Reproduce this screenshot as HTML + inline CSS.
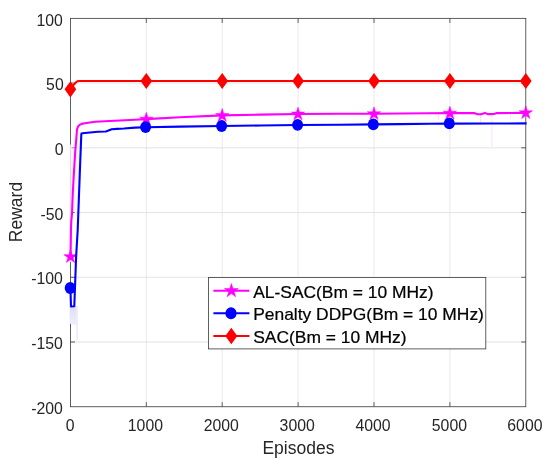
<!DOCTYPE html>
<html lang="en"><head><meta charset="utf-8"><title>Reward vs Episodes</title>
<style>
html,body{margin:0;padding:0;background:#ffffff;}
body{width:550px;height:463px;overflow:hidden;font-family:"Liberation Sans",sans-serif;}
svg{display:block;}
</style></head><body>
<svg width="550" height="463" viewBox="0 0 550 463" role="img" aria-label="Reward versus Episodes" font-family="'Liberation Sans', sans-serif">
<rect x="0" y="0" width="550" height="463" fill="#ffffff"/>
<path d="M146.30 18.35V406.75M222.20 18.35V406.75M298.10 18.35V406.75M374.00 18.35V406.75M449.90 18.35V406.75" stroke="#e9e9e9" stroke-width="1" fill="none"/>
<path d="M70.40 342.02H525.80M70.40 277.28H525.80M70.40 212.55H525.80M70.40 147.82H525.80M70.40 83.08H525.80" stroke="#e3e3e3" stroke-width="1" fill="none"/>
<rect x="70.40" y="18.35" width="455.40" height="388.40" fill="none" stroke="#383838" stroke-width="0.8"/>
<path d="M146.30 406.75v-4.6M146.30 18.35v4.6M222.20 406.75v-4.6M222.20 18.35v4.6M298.10 406.75v-4.6M298.10 18.35v4.6M374.00 406.75v-4.6M374.00 18.35v4.6M449.90 406.75v-4.6M449.90 18.35v4.6M70.40 342.02h4.6M525.80 342.02h-4.6M70.40 277.28h4.6M525.80 277.28h-4.6M70.40 212.55h4.6M525.80 212.55h-4.6M70.40 147.82h4.6M525.80 147.82h-4.6M70.40 83.08h4.6M525.80 83.08h-4.6" stroke="#383838" stroke-width="0.8" fill="none"/>
<g id="bands">
<defs><linearGradient id="bg" x1="0" y1="0" x2="0" y2="1"><stop offset="0" stop-color="#dcdcf9"/><stop offset="1" stop-color="#efeffd"/></linearGradient></defs>
<path d="M69.6 306 L76.4 306 L76.2 325.5 L69.6 323.5 Z" fill="url(#bg)"/>
<path d="M76 306 L77.7 306 L77.9 340 L76.4 340 Z" fill="#e9e9fc"/>
<path d="M69.3 144.6 L72.3 144.6 L72.3 200 L72.0 225 L71.8 262 L69.3 262 Z" fill="#fff0ff" opacity="0.84"/>
<path d="M72.3 144.6 L76.2 144.6 L74.6 160 L73.4 180 L72.6 200 L72.3 200 Z" fill="#fff0ff" opacity="0.35"/>
<path d="M76 132 L80.6 132 L79.4 160 L78.2 190 L77.2 215 L74 215 L75 180 Z" fill="#f4f0ff" opacity="0.5"/>
<path d="M438.6 113V120.5M480.5 113V125M491.9 113V148M510.5 113V119" stroke="#ffdcff" stroke-width="0.9" fill="none"/>
</g>
<polyline points="70.5,257.0 70.8,240.0 71.0,228.0 71.3,221.0 72.0,214.0 72.7,195.0 73.4,182.0 74.2,168.0 75.2,152.0 76.2,140.0 76.8,132.0 77.0,129.5 77.7,127.2 79.2,125.2 81.6,123.9 85.0,123.2 90.0,122.5 95.0,121.8 100.0,121.5 115.0,120.7 135.0,119.8 146.3,119.1 180.0,117.2 222.2,115.4 260.0,114.6 298.1,114.0 340.0,113.8 374.0,113.7 400.0,113.5 430.0,113.2 449.9,113.1 474.0,113.0 477.7,114.3 481.0,114.3 485.0,112.9 487.7,114.1 494.0,114.0 497.0,113.1 510.0,113.0 525.8,112.9" fill="none" stroke="#ff00ff" stroke-width="2.1" stroke-linejoin="round"/>
<polygon points="70.50,249.80 72.07,254.64 77.16,254.64 73.04,257.63 74.61,262.46 70.50,259.47 66.39,262.46 67.96,257.63 63.84,254.64 68.93,254.64" fill="#ff00ff" stroke="#ff00ff" stroke-width="0.5" stroke-linejoin="miter"/>
<polygon points="146.30,112.30 147.87,117.14 152.96,117.14 148.84,120.13 150.41,124.96 146.30,121.97 142.19,124.96 143.76,120.13 139.64,117.14 144.73,117.14" fill="#ff00ff" stroke="#ff00ff" stroke-width="0.5" stroke-linejoin="miter"/>
<polygon points="222.20,108.60 223.77,113.44 228.86,113.44 224.74,116.43 226.31,121.26 222.20,118.27 218.09,121.26 219.66,116.43 215.54,113.44 220.63,113.44" fill="#ff00ff" stroke="#ff00ff" stroke-width="0.5" stroke-linejoin="miter"/>
<polygon points="298.00,107.20 299.57,112.04 304.66,112.04 300.54,115.03 302.11,119.86 298.00,116.87 293.89,119.86 295.46,115.03 291.34,112.04 296.43,112.04" fill="#ff00ff" stroke="#ff00ff" stroke-width="0.5" stroke-linejoin="miter"/>
<polygon points="374.00,106.90 375.57,111.74 380.66,111.74 376.54,114.73 378.11,119.56 374.00,116.57 369.89,119.56 371.46,114.73 367.34,111.74 372.43,111.74" fill="#ff00ff" stroke="#ff00ff" stroke-width="0.5" stroke-linejoin="miter"/>
<polygon points="449.90,106.30 451.47,111.14 456.56,111.14 452.44,114.13 454.01,118.96 449.90,115.97 445.79,118.96 447.36,114.13 443.24,111.14 448.33,111.14" fill="#ff00ff" stroke="#ff00ff" stroke-width="0.5" stroke-linejoin="miter"/>
<polygon points="525.80,105.90 527.37,110.74 532.46,110.74 528.34,113.73 529.91,118.56 525.80,115.57 521.69,118.56 523.26,113.73 519.14,110.74 524.23,110.74" fill="#ff00ff" stroke="#ff00ff" stroke-width="0.5" stroke-linejoin="miter"/>
<polyline points="70.4,288.0 71.0,306.5 74.3,306.3 76.1,257.0 77.7,230.0 79.0,195.0 80.1,165.0 81.3,134.6 81.5,133.5 82.5,133.2 90.0,132.5 98.0,131.8 105.9,131.5 111.7,129.3 117.0,128.9 124.0,128.5 135.0,127.6 146.0,127.3 180.0,126.6 222.2,126.0 260.0,125.5 298.1,125.0 340.0,124.7 374.0,124.4 400.0,124.1 430.0,123.8 449.9,123.6 490.0,123.5 526.6,123.4" fill="none" stroke="#0000ff" stroke-width="2.1" stroke-linejoin="round"/>
<ellipse cx="70.20" cy="288.00" rx="5.50" ry="5.90" fill="#0000ff"/>
<ellipse cx="145.60" cy="127.10" rx="5.50" ry="5.90" fill="#0000ff"/>
<ellipse cx="221.60" cy="126.00" rx="5.50" ry="5.90" fill="#0000ff"/>
<ellipse cx="297.60" cy="124.80" rx="5.50" ry="5.90" fill="#0000ff"/>
<ellipse cx="373.30" cy="124.40" rx="5.50" ry="5.90" fill="#0000ff"/>
<ellipse cx="449.30" cy="123.40" rx="5.50" ry="5.90" fill="#0000ff"/>
<polyline points="70.4,89.3 73.0,85.6 76.0,82.3 77.6,81.2 79.0,81.0 525.8,81.0" fill="none" stroke="#ff0000" stroke-width="2.1" stroke-linejoin="round"/>
<polygon points="70.40,81.20 76.25,89.30 70.40,97.40 64.55,89.30" fill="#ff0000"/>
<polygon points="146.30,72.90 152.15,81.00 146.30,89.10 140.45,81.00" fill="#ff0000"/>
<polygon points="222.20,72.90 228.05,81.00 222.20,89.10 216.35,81.00" fill="#ff0000"/>
<polygon points="298.10,72.90 303.95,81.00 298.10,89.10 292.25,81.00" fill="#ff0000"/>
<polygon points="374.00,72.90 379.85,81.00 374.00,89.10 368.15,81.00" fill="#ff0000"/>
<polygon points="449.90,72.90 455.75,81.00 449.90,89.10 444.05,81.00" fill="#ff0000"/>
<polygon points="525.80,72.90 531.65,81.00 525.80,89.10 519.95,81.00" fill="#ff0000"/>
<text x="70.10" y="431.2" font-size="15.8" fill="#262626" text-anchor="middle">0</text>
<text x="145.40" y="431.2" font-size="15.8" fill="#262626" text-anchor="middle">1000</text>
<text x="221.30" y="431.2" font-size="15.8" fill="#262626" text-anchor="middle">2000</text>
<text x="297.20" y="431.2" font-size="15.8" fill="#262626" text-anchor="middle">3000</text>
<text x="373.10" y="431.2" font-size="15.8" fill="#262626" text-anchor="middle">4000</text>
<text x="449.40" y="431.2" font-size="15.8" fill="#262626" text-anchor="middle">5000</text>
<text x="524.90" y="431.2" font-size="15.8" fill="#262626" text-anchor="middle">6000</text>
<text x="62.90" y="413.90" font-size="15.8" fill="#262626" text-anchor="end">-200</text>
<text x="62.80" y="349.17" font-size="15.8" fill="#262626" text-anchor="end">-150</text>
<text x="62.80" y="284.43" font-size="15.8" fill="#262626" text-anchor="end">-100</text>
<text x="63.30" y="219.70" font-size="15.8" fill="#262626" text-anchor="end">-50</text>
<text x="63.50" y="154.97" font-size="15.8" fill="#262626" text-anchor="end">0</text>
<text x="63.70" y="90.23" font-size="15.8" fill="#262626" text-anchor="end">50</text>
<text x="62.90" y="25.50" font-size="15.8" fill="#262626" text-anchor="end">100</text>
<text x="298.4" y="454.0" font-size="17.5" fill="#262626" text-anchor="middle">Episodes</text>
<text transform="translate(22.2 212) rotate(-90)" font-size="17.5" fill="#262626" text-anchor="middle">Reward</text>
<rect x="208.5" y="277.5" width="277.30" height="71.40" fill="#ffffff" stroke="#383838" stroke-width="0.8"/>
<path d="M213.4 290.8H249.4" stroke="#ff00ff" stroke-width="1.95"/>
<polygon points="231.40,283.50 233.04,288.54 238.34,288.54 234.05,291.66 235.69,296.71 231.40,293.59 227.11,296.71 228.75,291.66 224.46,288.54 229.76,288.54" fill="#ff00ff" stroke="#ff00ff" stroke-width="0.5" stroke-linejoin="miter"/>
<text x="253.2" y="297.70" font-size="17.42" fill="#000000" stroke="#000000" stroke-width="0.22">AL-SAC(Bm = 10 MHz)</text>
<path d="M213.4 313.3H249.4" stroke="#0000ff" stroke-width="1.95"/>
<ellipse cx="231.00" cy="313.30" rx="5.60" ry="6.00" fill="#0000ff"/>
<text x="253.2" y="320.20" font-size="17.42" fill="#000000" stroke="#000000" stroke-width="0.22">Penalty DDPG(Bm = 10 MHz)</text>
<path d="M213.4 336.0H249.4" stroke="#ff0000" stroke-width="1.95"/>
<polygon points="231.30,327.80 237.30,336.00 231.30,344.20 225.30,336.00" fill="#ff0000"/>
<text x="253.2" y="342.90" font-size="17.42" fill="#000000" stroke="#000000" stroke-width="0.22">SAC(Bm = 10 MHz)</text>
</svg>
</body></html>
